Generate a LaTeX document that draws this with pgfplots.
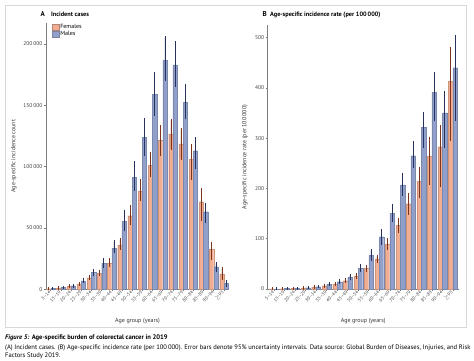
\documentclass[border=0pt]{standalone}
\usepackage{fontspec}
\setmainfont{PT Sans}
\usepackage{pgfplots}
\pgfplotsset{compat=1.18}
\usepackage{pgfplotstable}
\definecolor{fem}{RGB}{241,174,146}
\definecolor{mal}{RGB}{144,160,203}
\definecolor{femerr}{RGB}{125,50,28}
\definecolor{malerr}{RGB}{38,50,92}
\definecolor{axgray}{RGB}{125,125,125}
\definecolor{framegray}{RGB}{215,215,215}

% x: age group index; f/m: value; hi/lo: 95% UI
\pgfplotstableread{
x f fhi flo m mhi mlo
0 500 600 400 600 750 480
1 1200 1400 1000 1500 1800 1250
2 2400 2800 2100 2900 3400 2500
3 4500 5100 3900 6900 7800 6000
4 9500 10600 8500 13800 15500 12100
5 13000 14600 11900 21200 24500 18500
6 21200 24000 19200 33400 38900 30700
7 36100 40700 33400 55500 63800 48500
8 60000 67900 54000 91300 103200 81500
9 80100 88500 72800 123900 138600 110300
10 101300 110900 92400 159000 176100 142900
11 121700 132600 109500 186900 205000 171200
12 126600 138000 114900 182900 201000 166500
13 118500 130600 106900 152500 166500 139800
14 106000 117600 90000 113000 122900 99400
15 71400 81500 56500 63300 69500 55000
16 32600 37500 25300 18400 21000 15300
17 12500 17100 8900 4900 6200 3500
}\tabA

\pgfplotstableread{
x f fhi flo m mhi mlo
0 0.3 0.35 0.25 0.4 0.5 0.3
1 0.7 0.8 0.6 0.9 1.1 0.8
2 1.2 1.4 1.0 1.5 1.8 1.3
3 2.0 2.3 1.7 2.6 3.0 2.2
4 4.0 4.5 3.5 4.6 5.3 4.0
5 6.6 7.4 5.9 9.3 10.6 8.1
6 10.0 11.2 9.0 14.6 16.7 13.0
7 16.6 18.5 15.0 23.2 26.5 20.0
8 25.8 29.8 23.2 41.0 47.7 36.0
9 41.0 45.7 36.4 67.6 76.0 59.6
10 60.0 65.6 54.3 104.0 116.0 91.0
11 89.5 97.5 81.0 150.5 167.0 137.0
12 127.0 139.0 114.0 207.0 228.6 188.0
13 169.6 187.0 150.5 265.0 291.6 243.0
14 214.7 240.0 183.0 321.0 349.0 283.0
15 264.4 299.6 210.0 391.0 428.8 337.0
16 283.0 322.7 205.0 350.0 390.3 283.0
17 413.5 478.5 298.0 440.0 501.6 338.0
}\tabB

\pgfplotsset{
  sq legend/.style={legend image code/.code={\draw[##1, line width=0.35pt] (0pt,-2.6pt) rectangle (6.5pt,2.6pt);}},
  myaxis/.style={
    scale only axis, anchor=south west,
    axis x line*=bottom, axis y line*=left,
    axis line style={axgray, line width=0.6pt},
    xtick={0,...,17},
    xticklabels={5--14,15--19,20--24,25--29,30--34,35--39,40--44,45--49,50--54,55--59,60--64,65--69,70--74,75--79,80--84,85--89,90--94,$\geq$95},
    x tick label style={rotate=45, anchor=east, font=\fontsize{4.7}{6}\selectfont, text=black!75, inner sep=0.8pt},
    y tick label style={font=\fontsize{5.5}{6}\selectfont, text=black!75, inner sep=1.5pt},
    tick align=outside, major tick length=2pt, tick style={axgray, line width=0.5pt},
    /pgf/number format/assume math mode=true,
    scaled y ticks=false,
    yticklabel style={/pgf/number format/.cd, fixed, 1000 sep={\,}},
    xlabel={Age group (years)},
    label style={font=\fontsize{6}{7}\selectfont, text=black!80},
    xlabel style={at={(axis description cs:0.5,0)}, anchor=north, yshift=-25.5pt},
    ymin=0,
    clip=false,
  },
  femplot/.style={ybar, bar width=#1, bar shift=0pt, fill=fem, draw=fem!85!black, line width=0.2pt, forget plot,
    error bars/y dir=both, error bars/y explicit, error bars/error mark=-,
    error bars/error bar style={femerr, line width=0.5pt},
    error bars/error mark options={femerr, line width=0.5pt, mark size=1.5pt}},
  malplot/.style={ybar, bar width=#1, bar shift=0pt, fill=mal, draw=mal!85!black, line width=0.2pt, forget plot,
    error bars/y dir=both, error bars/y explicit, error bars/error mark=-,
    error bars/error bar style={malerr, line width=0.5pt},
    error bars/error mark options={malerr, line width=0.5pt, mark size=1.5pt}},
}

\begin{document}
\begin{tikzpicture}
\path[use as bounding box] (0pt,0pt) rectangle (474pt,361pt);
\draw[framegray, line width=0.8pt] (5pt,34pt) rectangle (466pt,356pt);

% Panel A
\begin{axis}[myaxis,
  at={(46pt,71.7pt)}, width=183pt, height=266.3pt,
  xmin=-0.45, xmax=17.5, ymax=217100,
  ytick={0,50000,100000,150000,200000},
  ylabel={Age-specific incidence count},
  ylabel style={at={(axis description cs:-0.175,0.5)}, anchor=center},
  legend style={at={(axis description cs:0.033,1.0)}, anchor=north west, draw=none, fill=none,
    font=\fontsize{6}{7}\selectfont, row sep=-1.2pt, inner sep=0pt, nodes={inner sep=1.2pt}},
  legend cell align=left,
]
\addlegendimage{sq legend, fill=fem, draw=femerr!60}
\addlegendentry{Females}
\addlegendimage{sq legend, fill=mal, draw=malerr!60}
\addlegendentry{Males}
\addplot[femplot=4.2pt] table[x expr=\thisrow{x}-0.21, y=f,
  y error plus expr=\thisrow{fhi}-\thisrow{f}, y error minus expr=\thisrow{f}-\thisrow{flo}] {\tabA};
\addplot[malplot=4.2pt] table[x expr=\thisrow{x}+0.21, y=m,
  y error plus expr=\thisrow{mhi}-\thisrow{m}, y error minus expr=\thisrow{m}-\thisrow{mlo}] {\tabA};
\end{axis}

% Panel B
\begin{axis}[myaxis,
  at={(267.7pt,72pt)}, width=191pt, height=264pt,
  xmin=-0.6, xmax=17.55, ymax=525,
  ytick={0,100,200,300,400,500},
  ylabel={Age-specific incidence rate (per 100\,000)},
  ylabel style={at={(axis description cs:-0.119,0.5)}, anchor=center},
]
\addplot[femplot=4.4pt] table[x expr=\thisrow{x}-0.214, y=f,
  y error plus expr=\thisrow{fhi}-\thisrow{f}, y error minus expr=\thisrow{f}-\thisrow{flo}] {\tabB};
\addplot[malplot=4.4pt] table[x expr=\thisrow{x}+0.214, y=m,
  y error plus expr=\thisrow{mhi}-\thisrow{m}, y error minus expr=\thisrow{m}-\thisrow{mlo}] {\tabB};
\end{axis}

% Panel titles
\node[anchor=base west, inner sep=0pt, font=\fontsize{7}{8}\selectfont\bfseries] at (40.5pt,344.3pt) {A};
\node[anchor=base west, inner sep=0pt, font=\fontsize{6.3}{8}\selectfont\bfseries] at (51pt,344.3pt) {Incident cases};
\node[anchor=base west, inner sep=0pt, font=\fontsize{7}{8}\selectfont\bfseries] at (262.5pt,344.3pt) {B};
\node[anchor=base west, inner sep=0pt, font=\fontsize{6.3}{8}\selectfont\bfseries] at (270pt,344.3pt) {Age-specific incidence rate (per 100\,000)};

% Caption
\node[anchor=base west, inner sep=0pt, font=\fontsize{6.6}{8}\selectfont\bfseries] at (5pt,21.5pt) {\textit{Figure 5:} Age-specific burden of colorectal cancer in 2019};
\node[anchor=base west, inner sep=0pt, font=\fontsize{6.55}{8}\selectfont] at (5pt,11pt) {(A) Incident cases. (B) Age-specific incidence rate (per 100\,000). Error bars denote 95\% uncertainty intervals. Data source: Global Burden of Diseases, Injuries, and Risk};
\node[anchor=base west, inner sep=0pt, font=\fontsize{6.55}{8}\selectfont] at (5pt,3pt) {Factors Study 2019.};
\end{tikzpicture}
\end{document}
